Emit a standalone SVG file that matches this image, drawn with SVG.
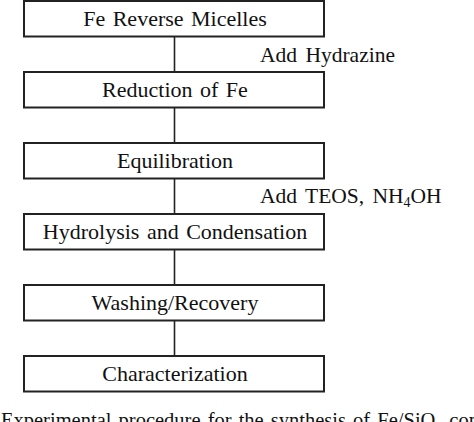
<svg xmlns="http://www.w3.org/2000/svg" width="474" height="422" viewBox="0 0 474 422">
<style>
.box{fill:#fff;stroke:#222;stroke-width:2}
.lbl{font-family:"Liberation Serif","Times New Roman",serif;font-size:22px;fill:#111;text-anchor:middle;word-spacing:2px}
.note{font-family:"Liberation Serif","Times New Roman",serif;font-size:21.5px;fill:#111;word-spacing:3px}
.conn{stroke:#222;stroke-width:1.6;fill:none}
</style>
<rect width="474" height="422" fill="#fff"/>
<g id="connectors">
<line class="conn" x1="174.5" y1="36.5" x2="174.5" y2="72"/>
<line class="conn" x1="174.5" y1="107.5" x2="174.5" y2="143"/>
<line class="conn" x1="174.5" y1="178.5" x2="174.5" y2="214"/>
<line class="conn" x1="174.5" y1="249.5" x2="174.5" y2="285"/>
<line class="conn" x1="174.5" y1="320.5" x2="174.5" y2="356"/>
</g>
<g id="n1"><rect class="box" x="24" y="1" width="300" height="35.5"/><text class="lbl" x="175" y="25.7">Fe Reverse Micelles</text></g>
<g id="n2"><rect class="box" x="24" y="72" width="300" height="35.5"/><text class="lbl" x="175" y="96.7">Reduction of Fe</text></g>
<g id="n3"><rect class="box" x="24" y="143" width="300" height="35.5"/><text class="lbl" x="175" y="167.7">Equilibration</text></g>
<g id="n4"><rect class="box" x="24" y="214" width="300" height="35.5"/><text class="lbl" x="175" y="238.7">Hydrolysis and Condensation</text></g>
<g id="n5"><rect class="box" x="24" y="285" width="300" height="35.5"/><text class="lbl" x="175" y="309.7">Washing/Recovery</text></g>
<g id="n6"><rect class="box" x="24" y="356" width="300" height="35.5"/><text class="lbl" x="175" y="380.7">Characterization</text></g>
<g id="labels">
<text class="note" x="260" y="61.7">Add Hydrazine</text>
<text class="note" x="260" y="203.3">Add TEOS, NH<tspan font-size="14" dy="4">4</tspan><tspan dy="-4">OH</tspan></text>
</g>
<text id="caption" x="1" y="426.5" font-family="'Liberation Serif','Times New Roman',serif" font-size="20.5" fill="#111" word-spacing="2">Experimental procedure for the synthesis of Fe/SiO<tspan font-size="13.5" dy="4">2</tspan><tspan dy="-4"> com</tspan></text>
</svg>
